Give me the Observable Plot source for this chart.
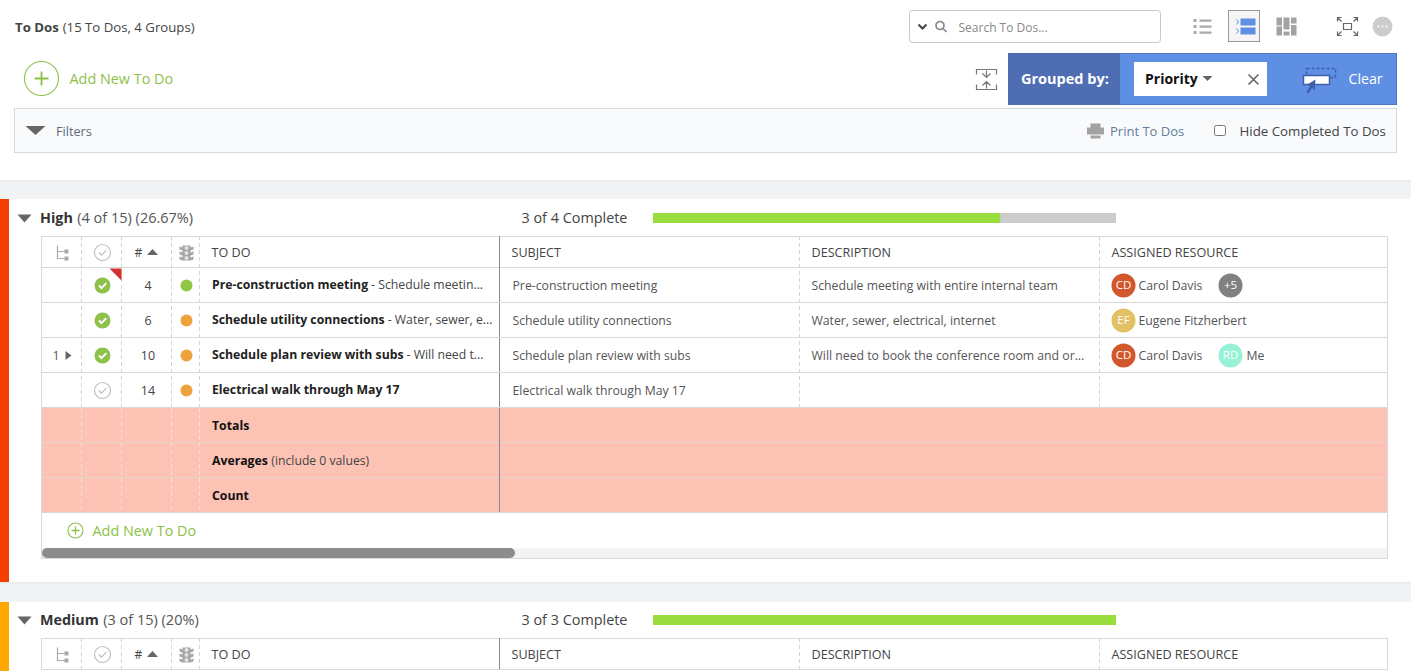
<!DOCTYPE html>
<html><head><meta charset="utf-8">
<script src="https://cdn.jsdelivr.net/npm/d3@7"></script>
<script src="https://cdn.jsdelivr.net/npm/@observablehq/plot@0.6"></script>
<style>html,body{margin:0;padding:0;background:#fff;overflow:hidden}svg{display:block}</style>
</head><body><div id="chart"></div>
<script>
// ---------- data ----------
const pageTitle = "To Dos";
const pageCounts = "(15 To Dos, 4 Groups)";
const groupNames = ["High", "Medium"];
const groupShares = ["(4 of 15) (26.67%)", "(3 of 15) (20%)"];
const groupDone = [3, 3];
const groupTotal = [4, 3];
const columnLabels = ["TO DO", "SUBJECT", "DESCRIPTION", "ASSIGNED RESOURCE"];
const taskNumbers = [4, 6, 10, 14];
const taskDone = [true, true, true, false];
const taskHealth = ["good", "warn", "warn", "warn"];
const taskNames = ["Pre-construction meeting", "Schedule utility connections", "Schedule plan review with subs", "Electrical walk through May 17"];
const taskSnippets = ["- Schedule meetin...", "- Water, sewer, e...", "- Will need t...", ""];
const taskSubjects = ["Pre-construction meeting", "Schedule utility connections", "Schedule plan review with subs", "Electrical walk through May 17"];
const taskDescriptions = ["Schedule meeting with entire internal team", "Water, sewer, electrical, internet", "Will need to book the conference room and or...", ""];
const firstAssignee = [["CD", "Carol Davis"], ["EF", "Eugene Fitzherbert"], ["CD", "Carol Davis"], null];
const secondAssignee = [["+5", ""], null, ["RD", "Me"], null];
const summaryLabels = ["Totals", "Averages", "Count"];
const summaryNotes = ["", "(include 0 values)", ""];

// ---------- layout + style ----------
const FONT = "'Open Sans'";
const W = 1411, H = 671;
const GREEN = "#8dc149", LINE = "#d9d9d9", DASH = "#d4d4d4";
const CELL = 12.25;
const avatarColor = {CD: "#d3572c", EF: "#e2c064", "+5": "#808080", RD: "#96f2d7"};
const healthColor = {good: "#8fc646", warn: "#eea23c"};
const groupColor = ["#f53e00", "#ffa800"];
const cardTop = [199, 602];
const colEdges = [41, 81, 121, 171, 199, 499, 799, 1099, 1387];

const ctx2d = document.createElement("canvas").getContext("2d");
const measure = (s, size, weight) => { ctx2d.font = `${weight} ${size}px ${FONT}`; return ctx2d.measureText(s).width; };

const box = (x1, y1, x2, y2, o = {}) => Plot.rect([0], {x1: [x1], y1: [y1], x2: [x2], y2: [y2], ...o});
const hline = (y, x1, x2, stroke = LINE, o = {}) => Plot.ruleY([y], {x1, x2, stroke, ...o});
const vline = (x, y1, y2, stroke = DASH, o = {}) => Plot.ruleX([x], {y1, y2, stroke, ...o});
const label = (x, y, text, o = {}) => Plot.text([text], {x: [x], y: [y], text: d => d, textAnchor: "start", fontFamily: FONT, fontSize: 12, fill: "#444", ...o});
const glyph = (x, y, draw, o = {}) => Plot.dot([0], {x: [x], y: [y], r: 10, symbol: {draw}, fill: "none", stroke: "none", ...o});

// small icon shapes, drawn around their own centre
const tri = (w, h) => c => { c.moveTo(-w / 2, -h / 2); c.lineTo(w / 2, -h / 2); c.lineTo(0, h / 2); c.closePath(); };
const triUp = (w, h) => c => { c.moveTo(-w / 2, h / 2); c.lineTo(w / 2, h / 2); c.lineTo(0, -h / 2); c.closePath(); };
const triRight = (w, h) => c => { c.moveTo(-w / 2, -h / 2); c.lineTo(w / 2, 0); c.lineTo(-w / 2, h / 2); c.closePath(); };
const tick = c => { c.moveTo(-3.5, 0); c.lineTo(-1, 2.6); c.lineTo(3.8, -2.4); };
const plus = s => c => { c.moveTo(-s, 0); c.lineTo(s, 0); c.moveTo(0, -s); c.lineTo(0, s); };
const cross = s => c => { c.moveTo(-s, -s); c.lineTo(s, s); c.moveTo(-s, s); c.lineTo(s, -s); };
const chevron = c => { c.moveTo(-4, -2); c.lineTo(0, 2); c.lineTo(4, -2); };
const lens = c => { c.moveTo(3.5, -1); c.arc(-0.5, -1, 4, 0, 2 * Math.PI); c.moveTo(2.5, 2); c.lineTo(6, 5.5); };
const tree = c => { c.moveTo(-5, -7); c.lineTo(-5, 6); c.lineTo(3, 6); c.moveTo(-5, -1); c.lineTo(3, -1); };
const treeNodes = c => { c.rect(2, -3, 4, 4); c.rect(2, 4, 4, 4); };
const lights = c => {
  c.rect(-4, -7, 8, 15);
  c.moveTo(-4, -5); c.lineTo(-7, -6); c.lineTo(-7, -3); c.lineTo(-4, -2); c.closePath();
  c.moveTo(4, -5); c.lineTo(7, -6); c.lineTo(7, -3); c.lineTo(4, -2); c.closePath();
  c.moveTo(-4, 0); c.lineTo(-7, -1); c.lineTo(-7, 2); c.lineTo(-4, 3); c.closePath();
  c.moveTo(4, 0); c.lineTo(7, -1); c.lineTo(7, 2); c.lineTo(4, 3); c.closePath();
  c.moveTo(-4, 5); c.lineTo(-7, 4); c.lineTo(-7, 7); c.lineTo(-4, 8); c.closePath();
  c.moveTo(4, 5); c.lineTo(7, 4); c.lineTo(7, 7); c.lineTo(4, 8); c.closePath();
};
const lightHoles = c => { for (const y of [-4.5, 0.5, 5.5]) { c.moveTo(2, y); c.arc(0, y, 2, 0, 2 * Math.PI); } };
const listIcon = c => { for (const y of [-6, 0, 6]) { c.rect(-9, y - 1.5, 3, 3); c.rect(-3, y - 1, 12, 2.2); } };
const splitIcon = c => { c.rect(-5, -8, 15, 7); c.rect(-5, 1, 15, 7); };
const splitArrows = c => { for (const y of [-4.5, 4.5]) { c.moveTo(-9, y - 2.5); c.lineTo(-7, y); c.lineTo(-9, y + 2.5); } };
const boardIcon = c => { c.rect(-10, -9, 5.5, 8); c.rect(-10, 0, 5.5, 9); c.rect(-3, -9, 6, 12); c.rect(-3, 5, 6, 4); c.rect(4.5, -9, 5.5, 6); c.rect(4.5, -1.5, 5.5, 10.5); };
const fullIcon = c => {
  c.rect(-4, -3, 8, 6);
  for (const [a, b] of [[-1, -1], [1, -1], [-1, 1], [1, 1]]) {
    c.moveTo(a * 10, b * 5); c.lineTo(a * 10, b * 9); c.lineTo(a * 6, b * 9);
    c.moveTo(a * 10, b * 9); c.lineTo(a * 6, b * 5);
  }
};
const dotsIcon = c => { for (const x of [-4, 0, 4]) { c.moveTo(x + 1, 0); c.arc(x, 0, 1, 0, 2 * Math.PI); } };
const collapseIcon = c => {
  c.moveTo(-10, -5); c.lineTo(-10, -10); c.lineTo(10, -10); c.lineTo(10, -5);
  c.moveTo(-10, 5); c.lineTo(-10, 10); c.lineTo(10, 10); c.lineTo(10, 5);
  c.moveTo(-4, -6); c.lineTo(0, -2); c.lineTo(4, -6); c.moveTo(0, -9); c.lineTo(0, -2);
  c.moveTo(-4, 6); c.lineTo(0, 2); c.lineTo(4, 6); c.moveTo(0, 9); c.lineTo(0, 2);
};
const printerIcon = c => { c.rect(-5, -7, 10, 4); c.rect(-8.5, -3, 17, 7); c.rect(-5, 5, 10, 3); };
const dragBack = c => { c.rect(-14, -4.5, 29, 9); };
const dragFront = c => { c.rect(-16, -4.5, 26, 9); };
const pointer = c => { c.moveTo(5, -9); c.lineTo(4, 2); c.lineTo(1.5, -0.5); c.lineTo(-2, 5); c.lineTo(-4, 3.5); c.lineTo(-0.5, -2); c.lineTo(-3, -4); c.closePath(); };
const cornerFlag = c => { c.moveTo(-6, -6); c.lineTo(6, -6); c.lineTo(6, 6); c.closePath(); };

// ---------- group sections ----------
function tableHeader(top) {
  const midY = top + 16;
  const m = [
    box(41, top, 1388, top + 32, {fill: "#fff"}),
    hline(top, 41, 1388), hline(top + 31, 41, 1388),
    glyph(62, midY, tree, {stroke: "#aaa", strokeWidth: 1.2}),
    glyph(62, midY, treeNodes, {fill: "#aaa"}),
    Plot.dot([0], {x: [102], y: [midY], r: 8, stroke: "#bdbdbd", strokeWidth: 1.1, fill: "none"}),
    glyph(102, midY, tick, {stroke: "#bdbdbd", strokeWidth: 1.1}),
    label(134, midY + 1, "#", {fontSize: 12, fill: "#444"}),
    glyph(152, midY - 0.5, triUp(11, 6), {fill: "#666"}),
    glyph(186, midY, lights, {fill: "#a6a6a6"}),
    glyph(186, midY, lightHoles, {fill: "#e2e2e2"})
  ];
  [0, 1, 2, 3].forEach(i => {
    m.push(label(colEdges[i + 4] + 12, midY + 0.4, columnLabels[i], {fontSize: 12.6, fill: "#444"}));
  });
  return m;
}
function vGrid(y1, y2) {
  return [81, 121, 171, 199, 799, 1099].map(x => vline(x, y1, y2, DASH, {strokeDasharray: "4,3"}))
    .concat([vline(499, y1, y2, "#8a8a8a"), vline(41, y1, y2, LINE), vline(1387, y1, y2, LINE)]);
}
function groupHead(i) {
  const top = cardTop[i], mid = top + (i === 0 ? 19 : 18);
  const bold = measure(groupNames[i], 14.3, 700);
  const frac = groupDone[i] / groupTotal[i];
  const barX = d3.scaleLinear([0, 1], [653, 1116]);
  return [
    box(0, top, 9, i === 0 ? top + 383 : H, {fill: groupColor[i]}),
    glyph(24, mid, tri(14, 8), {fill: "#666"}),
    label(39.5, mid, groupNames[i], {fontSize: 14.3, fontWeight: 700, fill: "#333"}),
    label(39.5 + bold + 4.5, mid, groupShares[i], {fontSize: 14.5, fill: "#555"}),
    label(521, mid, `${groupDone[i]} of ${groupTotal[i]} Complete`, {fontSize: 14.4, fill: "#444"}),
    box(653, mid - 5, 1116, mid + 5, {fill: "#cccccc"}),
    box(653, mid - 5, barX(frac), mid + 5, {fill: "#9bdc3e"})
  ];
}
function taskRow(i) {
  const rowH = 35, top = 268 + i * rowH, mid = 285 + i * rowH, textY = mid + 0.7;
  const m = [hline(top + rowH - 1, 41, 1388)];
  if (taskDone[i]) {
    m.push(Plot.dot([0], {x: [102], y: [mid], r: 8, fill: GREEN}));
    m.push(glyph(102, mid, tick, {stroke: "#fff", strokeWidth: 2}));
  } else {
    m.push(Plot.dot([0], {x: [102], y: [mid], r: 8, stroke: "#bdbdbd", strokeWidth: 1.1, fill: "none"}));
    m.push(glyph(102, mid, tick, {stroke: "#bdbdbd", strokeWidth: 1.1}));
  }
  m.push(label(147.5, mid, String(taskNumbers[i]), {textAnchor: "middle", fontSize: 12.5, fill: "#444"}));
  m.push(Plot.dot([0], {x: [186], y: [mid], r: 6, fill: healthColor[taskHealth[i]]}));
  const w = measure(taskNames[i], CELL, 700);
  m.push(label(211.5, textY - 1, taskNames[i], {fontSize: CELL, fontWeight: 700, fill: "#222"}));
  if (taskSnippets[i]) m.push(label(211.5 + w + 3, textY - 1, taskSnippets[i], {fontSize: CELL, fill: "#444"}));
  m.push(label(512, textY, taskSubjects[i], {fontSize: CELL, fill: "#555"}));
  m.push(label(811, textY, taskDescriptions[i], {fontSize: CELL, fill: "#555"}));
  for (const [a, cx, tx] of [[firstAssignee[i], 1123, 1138], [secondAssignee[i], 1230, 1246]]) {
    if (!a) continue;
    m.push(Plot.dot([0], {x: [cx], y: [mid], r: 12, fill: avatarColor[a[0]]}));
    m.push(label(cx, mid, a[0], {textAnchor: "middle", fontSize: 11.5, fill: "#fff"}));
    if (a[1]) m.push(label(tx, textY, a[1], {fontSize: CELL, fill: "#555"}));
  }
  return m;
}

const marks = [
  // page + cards
  box(0, 0, W, H, {fill: "#f2f3f5"}),
  box(0, 0, W, 180, {fill: "#fff"}),
  hline(180, 0, W, "#e6e8ea"),
  hline(181, 0, W, "#eeeff1"),
  box(0, 199, W, 582, {fill: "#fff"}),
  hline(582, 0, W, "#e6e8ea"),
  hline(583, 0, W, "#eeeff1"),
  box(0, 602, W, H, {fill: "#fff"}),

  // title row
  label(14.5, 27, pageTitle, {fontSize: 13.2, fontWeight: 700, fill: "#444"}),
  label(14.5 + measure(pageTitle, 13.2, 700) + 4, 27, pageCounts, {fontSize: 13.2, fill: "#444"}),
  box(909.5, 10.5, 1160.5, 42.5, {fill: "#fff", stroke: "#c8c8c8", rx: 3}),
  glyph(922, 26, chevron, {stroke: "#444", strokeWidth: 2}),
  glyph(940, 26, lens, {stroke: "#888", strokeWidth: 1.7}),
  label(958, 27.7, "Search To Dos...", {fontSize: 12, fill: "#888"}),
  glyph(1202, 26, listIcon, {fill: "#a9a9a9"}),
  box(1228.5, 10.5, 1259.5, 41.5, {fill: "#f5f5f5", stroke: "#999"}),
  glyph(1245, 26, splitIcon, {fill: "#5f8fe3"}),
  glyph(1245, 26, splitArrows, {stroke: "#5f8fe3", strokeWidth: 1}),
  glyph(1286, 26, boardIcon, {fill: "#a3a3a3"}),
  glyph(1347, 26, fullIcon, {stroke: "#666", strokeWidth: 1.2}),
  Plot.dot([0], {x: [1382], y: [26], r: 10, fill: "#cccccc"}),
  glyph(1382, 26, dotsIcon, {fill: "#fff"}),

  // add row + grouping
  Plot.dot([0], {x: [41], y: [78], r: 17, stroke: GREEN, strokeWidth: 1.1, fill: "#fff"}),
  glyph(41, 78, plus(7), {stroke: GREEN, strokeWidth: 1.8}),
  label(69, 79, "Add New To Do", {fontSize: 14.4, fill: GREEN}),
  glyph(986, 79, collapseIcon, {stroke: "#777", strokeWidth: 1.2}),
  box(1008.5, 53.5, 1396.5, 104.5, {fill: "#5f8fe3", stroke: "#4d73c0"}),
  box(1008, 53, 1120, 105, {fill: "#4f6db3"}),
  label(1020.5, 79, "Grouped by:", {fontSize: 14.5, fontWeight: 700, fill: "#fff"}),
  box(1134, 62, 1267, 96, {fill: "#fff"}),
  label(1144.5, 79, "Priority", {fontSize: 14, fontWeight: 700, fill: "#111"}),
  glyph(1207, 78, tri(10, 5), {fill: "#666"}),
  glyph(1253, 79, cross(5), {stroke: "#666", strokeWidth: 1.6}),
  glyph(1320, 72.5, dragBack, {stroke: "#3f5ea6", strokeDasharray: "3,2"}),
  glyph(1319, 79.5, dragFront, {fill: "#fff", stroke: "#3f5ea6"}),
  glyph(1310, 88, pointer, {fill: "#3f5ea6"}),
  label(1348, 79, "Clear", {fontSize: 14.2, fill: "#fff"}),

  // filter bar
  box(14.5, 108.5, 1396.5, 152.5, {fill: "#f9fafc", stroke: "#d5d9e0"}),
  glyph(35, 130, tri(20, 9), {fill: "#666"}),
  label(55.5, 131, "Filters", {fontSize: 12.7, fill: "#5d6b78"}),
  glyph(1095, 130, printerIcon, {fill: "#a3a3a3"}),
  label(1109.5, 131, "Print To Dos", {fontSize: 13, fill: "#5f7f9b"}),
  box(1214.5, 125.5, 1225.5, 135.5, {fill: "#fff", stroke: "#777", rx: 2}),
  label(1239, 131, "Hide Completed To Dos", {fontSize: 13.3, fill: "#444"}),

  // High group
  ...groupHead(0),
  ...tableHeader(236),
  ...vGrid(236, 408),
  ...taskNumbers.flatMap((_, i) => taskRow(i)),
  glyph(115, 274, cornerFlag, {fill: "#d32f2f"}),
  label(52, 355, "1", {fontSize: 12.5, fill: "#555"}),
  glyph(68, 355, triRight(6, 9), {fill: "#666"}),

  box(42, 408, 1388, 512, {fill: "#fcc3b5"}),
  ...[442, 477].map(y => hline(y, 42, 1388, "#e8d3ce")),
  ...[81, 121, 171, 199].map(x => vline(x, 408, 512, "#f4e0db", {strokeDasharray: "4,3"})),
  vline(499, 408, 512, "#8a8a8a"),
  vline(41, 408, 558, LINE), vline(1387, 408, 558, LINE),
  hline(512, 41, 1388),
  ...summaryLabels.flatMap((s, i) => {
    const y = 425.7 + i * 35;
    const out = [label(211.5, y, s, {fontSize: CELL, fontWeight: 700, fill: "#111"})];
    if (summaryNotes[i]) out.push(label(211.5 + measure(s, CELL, 700) + 3.5, y, summaryNotes[i], {fontSize: 12.2, fill: "#444"}));
    return out;
  }),
  Plot.dot([0], {x: [75], y: [530], r: 7.5, stroke: GREEN, strokeWidth: 1.1, fill: "none"}),
  glyph(75, 530, plus(4), {stroke: GREEN, strokeWidth: 1.3}),
  label(92, 531, "Add New To Do", {fontSize: 14.4, fill: GREEN}),
  box(42, 548, 1387, 558, {fill: "#f3f3f3"}),
  box(42, 548, 515, 558, {fill: "#8c8c8c", rx: 5}),
  hline(558, 41, 1388),

  // Medium group
  ...groupHead(1),
  ...tableHeader(638),
  ...vGrid(638, 669)
];

const chart = Plot.plot({
  width: W, height: H, margin: 0,
  x: {domain: [0, W], range: [0, W], axis: null},
  y: {domain: [0, H], range: [0, H], axis: null},
  style: {background: "#fff", fontFamily: FONT},
  marks
});
document.getElementById("chart").append(chart);
</script></body></html>
